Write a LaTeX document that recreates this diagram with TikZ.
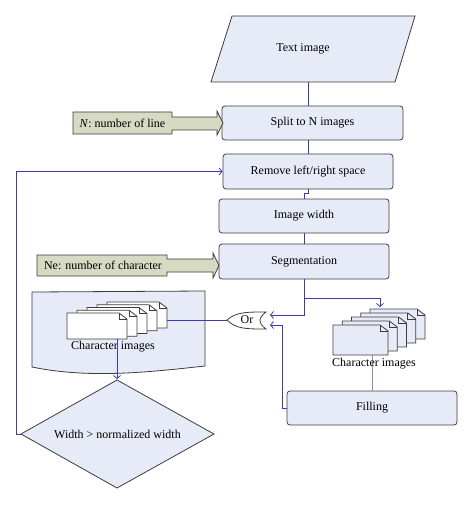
\documentclass[tikz,border=0pt]{standalone}
\usepackage{fontspec}
\setmainfont{Liberation Serif}
\usetikzlibrary{arrows.meta}
\definecolor{boxfill}{HTML}{E6EBF7}
\definecolor{flowblue}{HTML}{3B3BB0}
\definecolor{edgegray}{HTML}{3C3C3C}
\definecolor{inputfill}{HTML}{D6DAC3}

\tikzset{
  stepbox/.style={draw=edgegray, fill=boxfill, rounded corners=3pt, line width=0.8pt,
    minimum width=170pt, minimum height=34pt, font=\fontsize{12}{14}\selectfont},
  plaintext/.style={font=\fontsize{12}{14}\selectfont, inner sep=1pt},
  link/.style={draw=flowblue, line width=0.8pt},
  flow/.style={link, -{Straight Barb[length=3pt,width=7pt]}},
  outline/.style={draw=edgegray, line width=0.8pt},
}

% one sheet of a stack: x, y, width, height, fill
\newcommand{\charpage}[5]{%
  \draw[outline, fill=#5] (#1,#2) -- ++(#3-8,0) -- ++(8,6) -- ++(0,#4-6) -- ++(-#3,0) -- cycle;
  \draw[outline] (#1+#3-8,#2) -- ++(0,6) -- ++(8,0);
}

\begin{document}
\begin{tikzpicture}[x=1pt, y=-1pt]
    \useasboundingbox (0,0) rectangle (474,505);
    % Text image
    \draw[outline, fill=boxfill] (232,16) -- (415,16) -- (395,82) -- (211,82) -- cycle;
    \node[plaintext] (textimg) at (303,49) {Text image};
    \coordinate (txtfoot) at (308,82);
    % Main steps
    \node[stepbox, minimum width=181pt] (split) at (312.5,123) {Split to N images};
    \node[stepbox, minimum height=35pt] (remove) at (308,171.5) {Remove left/right space};
    \node[stepbox] (imgwidth) at (304,216) {Image width};
    \node[stepbox, minimum height=35pt] (segment) at (304,261.5) {Segmentation};
    \node[stepbox] (filling) at (372,408) {Filling};
    % Inputs
    \draw[outline, fill=inputfill] (73,112) -- (172,112) -- (172,117) -- (217,117) -- (217,111)
      -- (223,123) -- (217,135) -- (217,130) -- (172,130) -- (172,134) -- (73,134) -- cycle;
    \node[plaintext] (nline) at (122.5,123) {\textit{N}: number of line};
    \draw[outline, fill=inputfill] (37,255) -- (167,255) -- (167,259) -- (213,259) -- (213,253)
      -- (219,265.5) -- (213,278) -- (213,272) -- (167,272) -- (167,276) -- (37,276) -- cycle;
    \node[plaintext] (nchar) at (103,265.5) {Ne: number of character};
    % Left document with character images
    \draw[outline, fill=boxfill] (32,292) -- (205,291) -- (205,366)
      .. controls (150,372) and (90,379) .. (32,367) -- cycle;
    \coordinate (leftstack) at (167,320);
    \coordinate (leftfoot) at (117,339);
    \foreach \i in {4,...,0} {\charpage{67+10*\i}{313-2.75*\i}{60}{26}{white}}
    \draw[flow] (leftfoot) -- (117,379);
    \node[plaintext, fill=boxfill, inner sep=0pt] (leftchars) at (113,347) {Character images};
    \draw[link] (leftfoot) -- (leftchars.south -| leftfoot);
    % Right stack of character images
    \coordinate (rightstack) at (380,307);
    \coordinate (rightfoot) at (372,355);
    \draw[link, line width=0.5pt, draw=flowblue!60] (rightfoot) -- (filling.north);
    \foreach \i in {4,...,0} {\charpage{333+9.25*\i}{325-4*\i}{55}{30}{boxfill}}
    \node[plaintext] (rightchars) at (374,364) {Character images};
    % Or gate
    \coordinate (orout) at (227,320);
    \coordinate (orin1) at (270,315);
    \coordinate (orin2) at (270,325);
    \draw[outline, fill=white] (orout) .. controls (236,312) and (246,312) .. (266,312)
      .. controls (258,318) and (258,323) .. (266,329)
      .. controls (246,329) and (236,329) .. (orout) -- cycle;
    \node[plaintext] (orlabel) at (247,320) {Or};
    % Decision
    \draw[outline, fill=boxfill] (117,380) -- (214,434) -- (117,488) -- (21,434) -- cycle;
    \node[plaintext] (check) at (117.5,434) {Width > normalized width};
    \coordinate (diamleft) at (21,434);
    % Connectors
    \draw[link] (txtfoot) -- (txtfoot |- split.north);
    \draw[link] (split.south -| remove) -- (remove.north);
    \draw[link] (remove.south) -- ++(0,4) -| (imgwidth.north);
    \draw[link] (imgwidth.south) -- (segment.north);
    \draw[flow] (segment.south) |- (orin1);
    \draw[flow] (segment.south |- 0,298) -| (rightstack);
    \draw[flow] (filling.west) -- ++(-4,0) |- (orin2);
    \draw[link] (leftstack) -- (orout);
    \draw[flow] (diamleft) -- (16,434) |- (remove.west);
\end{tikzpicture}
\end{document}
